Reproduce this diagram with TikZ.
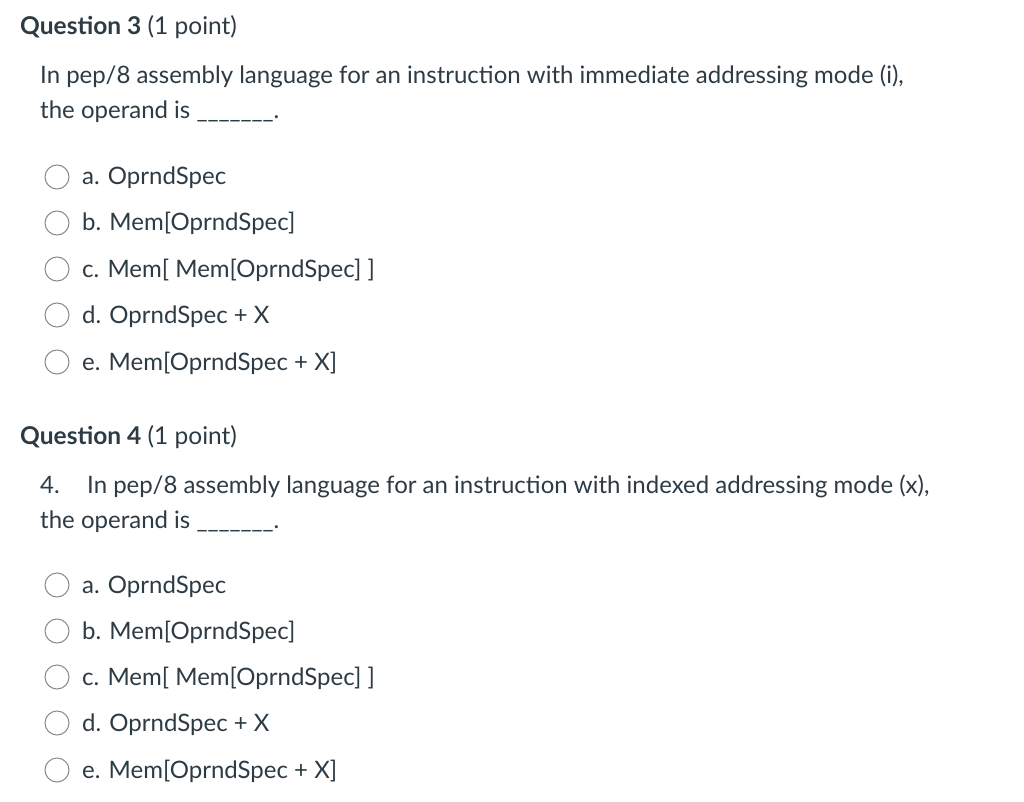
\documentclass[tikz,border=0pt]{standalone}
\usepackage{fontspec}
\setmainfont{Lato}
\definecolor{txt}{HTML}{2D3B45}
\definecolor{ring}{HTML}{8A8A8A}
\begin{document}
\begin{tikzpicture}[x=1pt,y=-1pt,
  t/.style={anchor=base west,inner sep=0pt,text=txt,font=\fontsize{24}{28}\selectfont},
  h/.style={anchor=base west,inner sep=0pt,text=txt,font=\fontsize{24.5}{28}\selectfont},
  radio/.style={draw=ring,line width=1pt,circle,minimum size=24pt,inner sep=0pt}]
\useasboundingbox (0,0) rectangle (1024,802);
\fill[white] (0,0) rectangle (1024,802);
\node[h] (h3) at (20,35) {\textbf{Question 3} (1 point)};
\node[t] (q3a) at (40,84) {In pep/8 assembly language for an instruction with immediate addressing mode (i),};
\node[t] (q3b) at (40,119) {the operand is \_\_\_\_\_\_\_.};
\foreach \y/\l [count=\i] in {185/a. OprndSpec,231/b. Mem[OprndSpec],277/c. Mem[ Mem[OprndSpec] ],323/d. OprndSpec + X,370/e. Mem[OprndSpec + X]}{
  \node[radio] (r3\i) at (57,\y-8) {};
  \node[t] (o3\i) at (82,\y) {\l};
}
\node[h] (h4) at (20,444) {\textbf{Question 4} (1 point)};
\node[t] (q4a) at (40,493) {4.};
\node[t] (q4c) at (87,493) {In pep/8 assembly language for an instruction with indexed addressing mode (x),};
\node[t] (q4b) at (40,528) {the operand is \_\_\_\_\_\_\_.};
\foreach \y/\l [count=\i] in {593/a. OprndSpec,639/b. Mem[OprndSpec],685/c. Mem[ Mem[OprndSpec] ],731/d. OprndSpec + X,778/e. Mem[OprndSpec + X]}{
  \node[radio] (r4\i) at (57,\y-8) {};
  \node[t] (o4\i) at (82,\y) {\l};
}
\end{tikzpicture}
\end{document}
